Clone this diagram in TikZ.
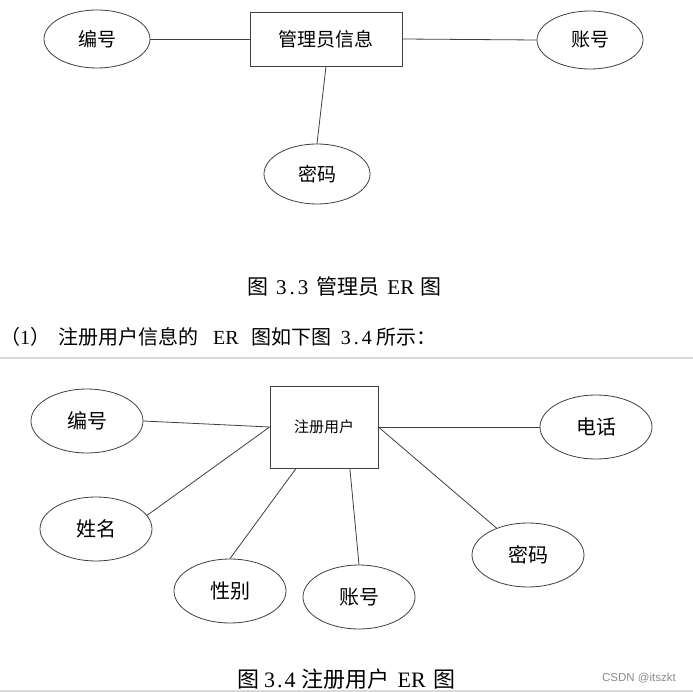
\documentclass[tikz,border=0pt]{standalone}
\usepackage{fontspec}
\setmainfont{Liberation Serif}
\newfontfamily\cjk{Noto Sans CJK SC}
\newfontfamily\wmfont{Liberation Sans}
\usetikzlibrary{shapes.geometric}
\tikzset{
  attr/.style={draw=black!75, ellipse, line width=0.8pt, inner sep=0pt,
    font=\cjk\fontsize{19}{19}\selectfont},
  ent/.style={draw=black!75, rectangle, line width=0.8pt, inner sep=0pt,
    font=\cjk\fontsize{19}{19}\selectfont},
  link/.style={draw=black!75, line width=0.8pt},
  caption/.style={anchor=west, inner sep=0pt, font=\fontsize{21}{21}\selectfont}
}
\begin{document}
\begin{tikzpicture}[x=1pt,y=-1pt]
  \useasboundingbox[fill=white] (0,0) rectangle (693,692);
  % Administrator ER diagram
  \node (admin) at (326,39) [ent, minimum width=152pt, minimum height=54pt] {管理员信息};
  \node (aid) at (97,39) [attr, minimum width=106pt, minimum height=58pt] {编号};
  \node (aacc) at (590,40) [attr, minimum width=106pt, minimum height=58pt] {账号};
  \node (apwd) at (317,174) [attr, minimum width=106pt, minimum height=60pt] {密码};
  \draw[link] (aid.east) -- (admin.west);
  \draw[link] (admin.east) -- (aacc.west);
  \draw[link] (admin.south) -- (apwd.north);
  \node (cap1) at (247,287) [caption]
    {{\cjk 图}\hspace{8pt}3\hspace{3pt}.\hspace{3pt}3\hspace{8pt}{\cjk 管理员}\hspace{8pt}ER\hspace{6pt}{\cjk 图}};
  \node (intro) at (0,337) [caption, font=\fontsize{20}{20}\selectfont]
    {{\cjk （}1{\cjk ）}\hspace{8pt}{\cjk 注册用户信息的}\hspace{15pt}ER\hspace{13pt}{\cjk 图如下图}\hspace{9pt}3\hspace{3pt}.\hspace{3pt}4\hspace{5pt}{\cjk 所示：}};
  % page separators
  \coordinate (sepl) at (0,358);
  \coordinate (sepr) at (693,358);
  \draw[black!15, line width=2pt] (sepl) -- (sepr);
  \coordinate (endl) at (0,691);
  \coordinate (endr) at (693,691);
  \draw[black!15, line width=2pt] (endl) -- (endr);
  % Registered user ER diagram
  \node (user) at (324,427) [ent, minimum width=108pt, minimum height=82pt,
    font=\cjk\fontsize{15}{15}\selectfont] {注册用户};
  \node (uid) at (87,421) [attr, minimum width=112pt, minimum height=64pt, font=\cjk\fontsize{20}{20}\selectfont] {编号};
  \node (uname) at (96,529) [attr, minimum width=112pt, minimum height=64pt, font=\cjk\fontsize{20}{20}\selectfont] {姓名};
  \node (usex) at (230,591) [attr, minimum width=112pt, minimum height=64pt, font=\cjk\fontsize{20}{20}\selectfont] {性别};
  \node (uacc) at (359,597) [attr, minimum width=112pt, minimum height=64pt, font=\cjk\fontsize{20}{20}\selectfont] {账号};
  \node (upwd) at (528,555) [attr, minimum width=112pt, minimum height=64pt, font=\cjk\fontsize{20}{20}\selectfont] {密码};
  \node (utel) at (596,427) [attr, minimum width=112pt, minimum height=64pt, font=\cjk\fontsize{20}{20}\selectfont] {电话};
  \draw[link] (uid.east) -- (user.west);
  \draw[link] (uname.15) -- (user.west);
  \draw[link] (usex.north) -- (user.-124);
  \draw[link] (uacc.north) -- (user.-58);
  \draw[link] (user.east) -- (upwd);
  \draw[link] (user.east) -- (utel.west);
  \node (cap2) at (237,679) [caption, font=\fontsize{22}{22}\selectfont]
    {{\cjk 图}\hspace{5pt}3\hspace{2pt}.\hspace{2pt}4\hspace{6pt}{\cjk 注册用户}\hspace{8pt}ER\hspace{8pt}{\cjk 图}};
  \node (mark) at (639,678) [font=\wmfont\fontsize{11.5}{11.5}\selectfont, text=black!45] {CSDN @itszkt};
\end{tikzpicture}
\end{document}
